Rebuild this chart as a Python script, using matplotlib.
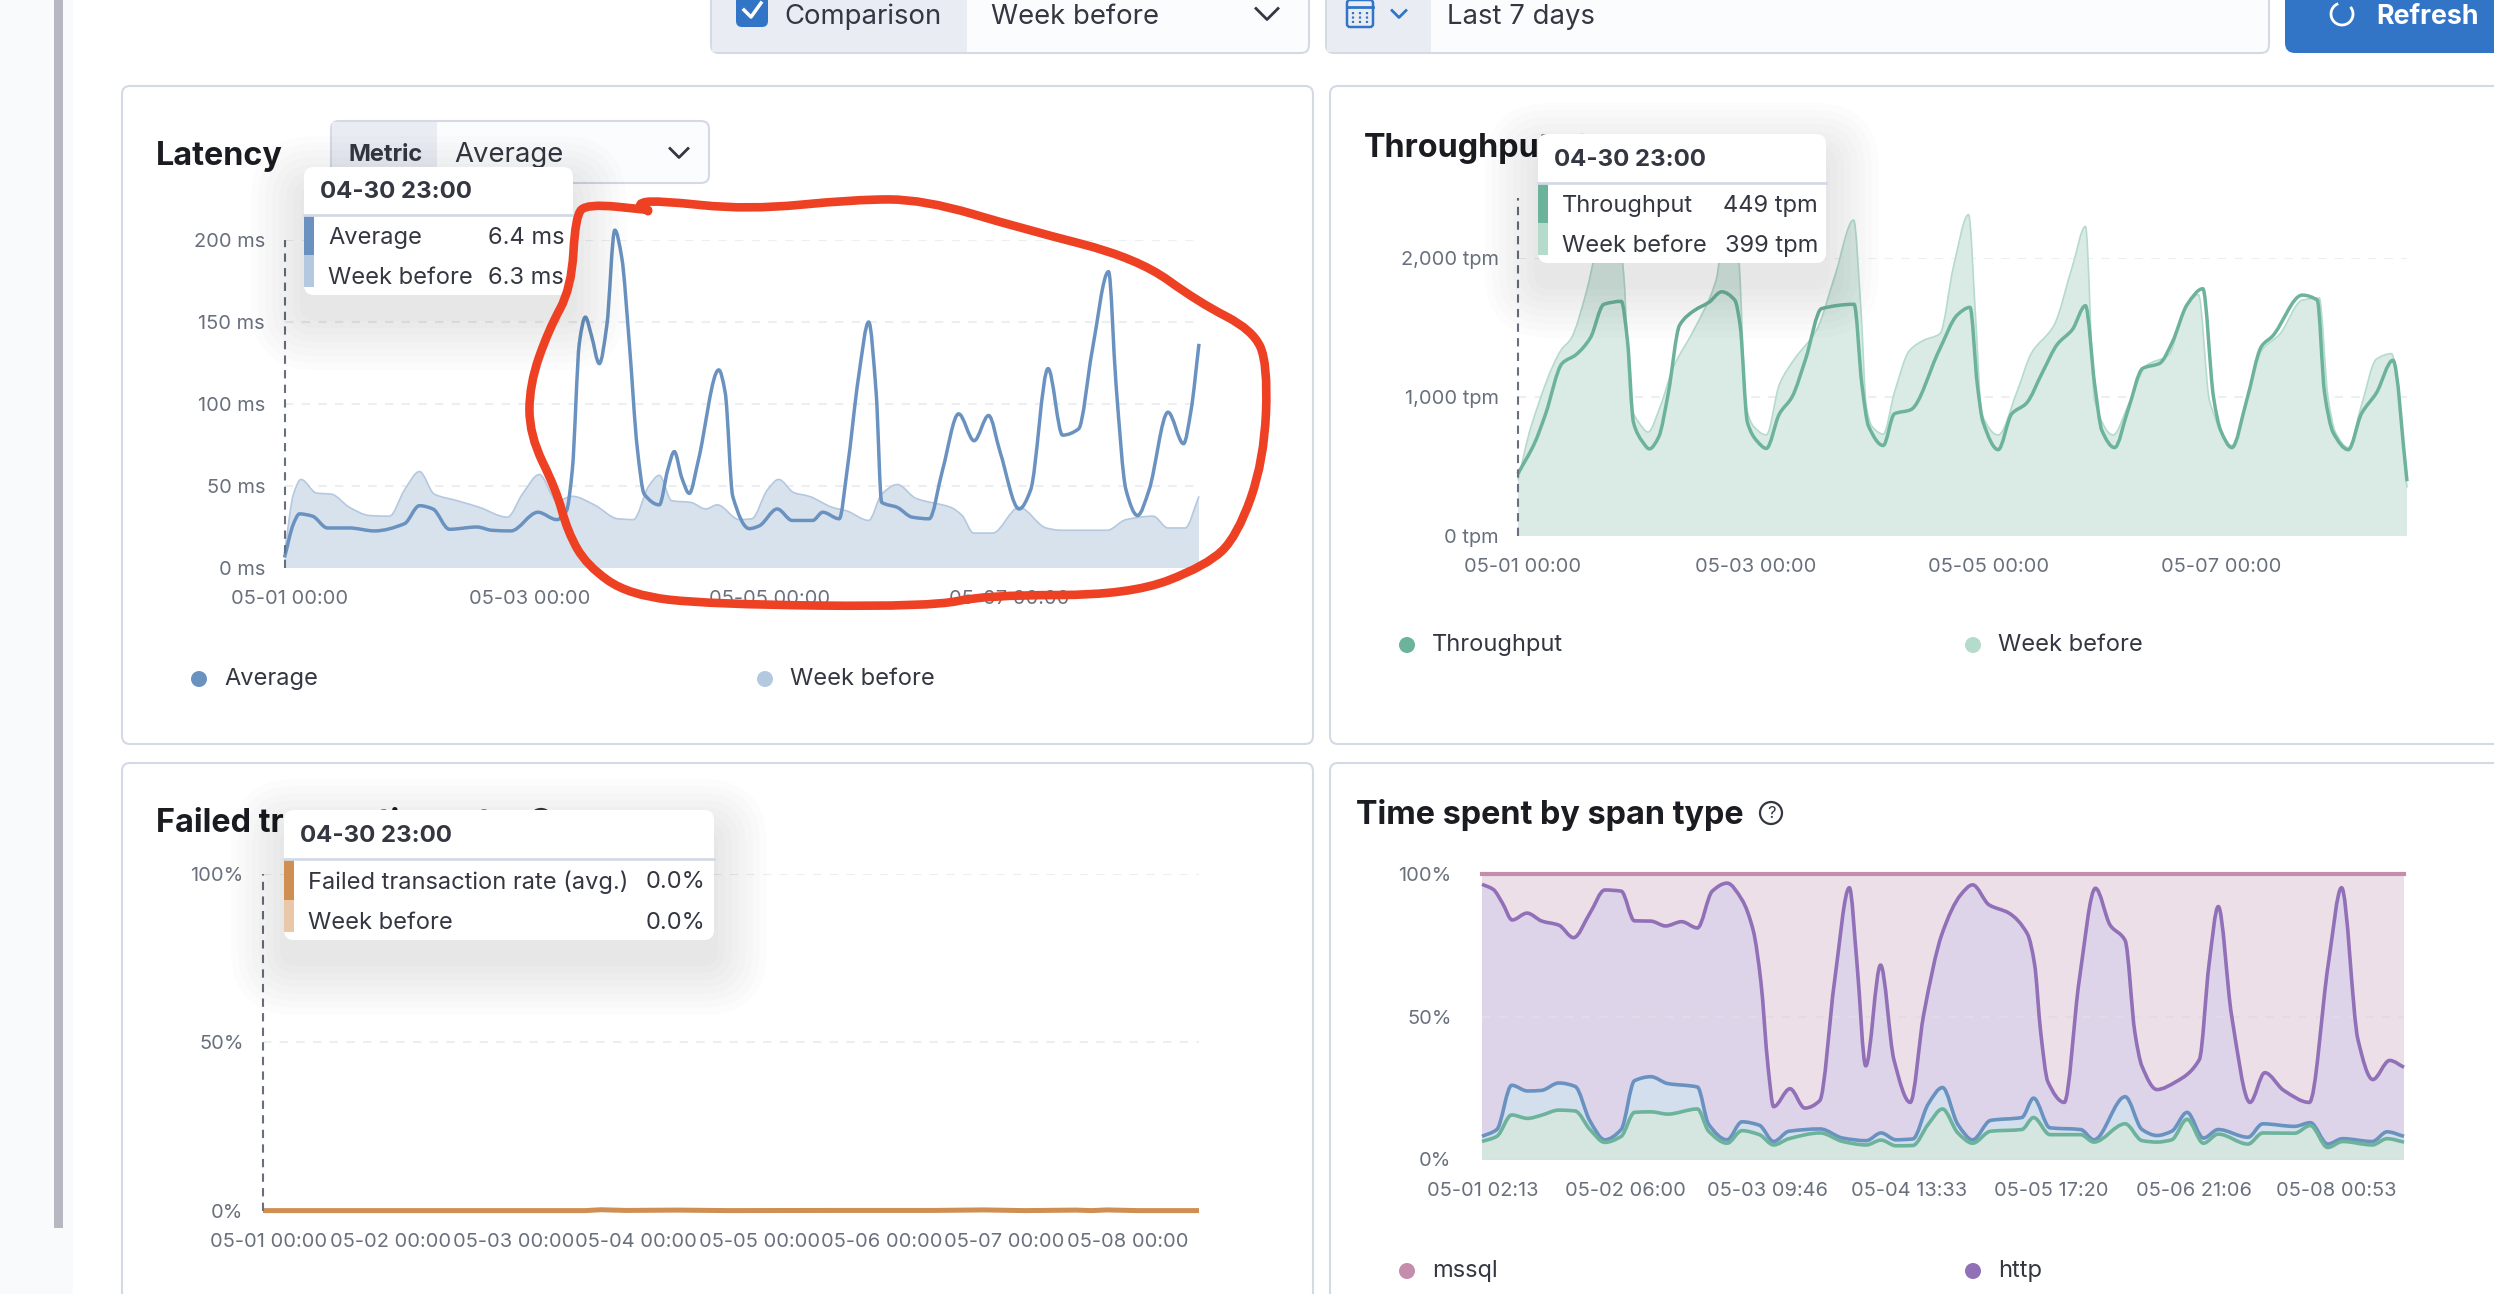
import matplotlib
matplotlib.use("Agg")
import matplotlib.pyplot as plt
from matplotlib.patches import Circle, FancyBboxPatch, PathPatch, Rectangle, Arc
from matplotlib.path import Path

plt.rcParams['font.family'] = ['Inter', 'DejaVu Sans']

W, H = 2494, 1294

# Latency, hours since 05-01 00:00
latency_hours = [-1, 0.8, 2, 4.6, 7.6, 12, 17, 23, 26, 28.7, 32, 37.5, 40.5, 44.3, 49.7, 53.5, 55.4, 56.6, 58, 59.2,
                 60.4, 62, 63.5, 65.1, 66.5, 68, 69.6, 71, 74, 75.7, 77, 78.5, 80, 81.8, 85.9, 87.2, 88.7, 92, 94,
                 97.6, 100.6, 104.7, 106.7, 110, 111.6, 113.9, 115.9, 117.4, 118.5, 121.6, 124.6, 128, 130.7, 133.9,
                 137, 139.9, 142.2, 146, 148.3, 151.8, 154.7, 157.9, 160.6, 163.9, 165.4, 167.4, 169.7, 172, 175.8,
                 178.9, 180.4, 182]
latency_avg = [6.4, 27, 33, 31.6, 24.4, 24.4, 22.6, 27, 38, 36, 23.6, 25, 23, 22.6, 34, 29.5, 34.7, 60, 137, 153,
               142, 124.6, 148, 206, 189, 137, 73, 45, 38.5, 60, 71, 55, 45.5, 65.5, 120.8, 106.7, 43.7, 24, 25.7,
               36, 29, 29, 34, 30, 60, 117, 150, 106.7, 40, 37, 31, 30, 60, 94,
               77.6, 93, 70.7, 36, 47.5, 121.6, 81, 84.8, 132, 180.7, 111.8, 47.5, 32, 47.5, 95,
               75.8, 96, 136.7]
week_hours = [-1, 0.8, 2.3, 5.4, 8.4, 12, 16, 20, 23, 26, 29, 33.6, 38, 43.6, 46.6, 50, 53.5, 56.6, 61, 65.7, 68.8,
              71.9, 74, 76.5, 80.3, 83.3, 85.6, 90, 92.5, 95.6, 97.9, 100.9, 104, 108.6, 111.6, 115.9, 118.5, 121.6,
              125.4, 132.3, 134.6, 136.9, 140.7, 146, 151.4, 154.4, 163.6, 167.4, 172.8, 175.8, 179.2, 182]
latency_week = [9, 45, 54, 45.7, 45, 37, 32, 31.6, 47.5, 58.8, 45, 41, 37, 31, 45, 57, 41, 43.7, 38.5, 30, 29.5,
                50, 56.5, 41, 40, 36, 38.5, 29.5, 30, 47.5, 54, 46, 43.7, 37, 34.7, 29, 45, 50.9,
                42.4, 37, 32, 21.3, 21.3, 37, 24.4, 23, 23, 29.5, 31.6, 24.4, 24.4, 43.7]

# Throughput
tp_hours = [-1, 2.4, 4.7, 8.1, 10.9, 13.9, 16.7, 20.3, 21.6, 22.8, 24.6, 26.1, 28, 30, 32.3, 35.3, 38.4, 41, 43.7,
            44.8, 46.3, 48.3, 50.2, 52.9, 55.5, 58.3, 61.6, 68.3, 69.9, 71.3, 74.3, 76.6, 80, 85.8, 89.6, 92.2, 93.7,
            94.9, 98, 100.8, 103.8, 107.2, 110.2, 113.3, 116, 117.9, 119.4, 122, 124.8, 127.8, 131.3, 133.9, 137,
            140.2, 142.4, 143.9, 146.2, 149.2, 152.3, 154.6, 160.7, 163.8, 165.3, 167.1, 170.2, 172.9, 176, 179.4,
            182.3]
tp_now = [449, 667, 879, 1242, 1303, 1424, 1667, 1688, 1394, 818, 682, 627, 712, 1030, 1515, 1621, 1682, 1757, 1697,
          1515, 818, 682, 630, 879, 1000, 1273, 1636, 1667, 1091, 788, 651, 879, 909, 1333, 1591, 1645, 1091,
          818, 621, 879, 954, 1182, 1379, 1485, 1657, 1091, 758, 636, 909, 1206, 1242, 1394, 1667,
          1779, 1000, 758, 636, 970, 1364, 1439, 1733, 1697, 1030, 742, 621, 879, 1030, 1264,
          394]
tp_week_hours = [-1, 1.7, 7.8, 10, 13.1, 15.4, 17.7, 19.2, 20.8, 22.3, 23.9, 25.8, 28.4, 31, 35.3, 39.9, 41.4, 43,
                 44.5, 46, 47.6, 50.2, 52.9, 56, 60.6, 64.4, 68.2, 69.7, 70.8, 72, 74.3, 76.6, 79.7, 82.7, 86, 88.8,
                 91.9, 93.4, 94.6, 98, 101.8, 104.9, 109.5, 113.3, 116, 117.9, 121.7, 124.8, 128.6, 133.2, 136.2,
                 139.3, 141.6, 146.2, 149.2, 152.3, 156.1, 160.7, 164.2, 166, 167.6, 170.2, 172.9, 176, 179.1, 182.3]
tp_week = [399, 788, 1333, 1424, 1757, 2100, 2330, 2330, 1879, 939, 818, 748, 939, 1212, 1485, 1848, 2200, 2280,
           2000, 939, 788, 727, 1091, 1273, 1485, 1879, 2273, 1636, 939, 788, 733, 1030, 1333, 1409, 1455, 1939,
           2312, 1545, 879, 727, 1030, 1318, 1515, 1939, 2227, 970, 727, 939, 1227, 1303, 1606,
           1736, 970, 651, 970, 1333, 1454, 1697, 1712, 1000, 742, 636, 939, 1273, 1312, 348]

# Failed transaction rate
failed_hours = [-1, 40, 62, 65, 70, 80, 90, 110, 130, 140, 148, 158, 161, 164, 170, 182]
failed_rate = [0, 0, 0, 0.25, 0.05, 0.15, 0, 0.05, 0.05, 0.2, 0, 0.15, 0, 0.2, 0, 0]

# Time spent by span type, stacked tops in percent
http_hours = [2, 4.2, 6, 7.9, 10.8, 13.7, 17, 19.9, 23.1, 26, 29.2, 31.8, 35, 37.9, 41, 44.1, 47, 49.9, 52.8, 55,
              56.5, 57.9, 59, 62.2, 65.1, 68, 70.9, 73.8, 75.3, 77, 79.9, 82.5, 85.7, 88.3, 91.9, 95.6, 97.9, 101.1,
              105, 108.6, 110, 111.2, 112.6, 115.8, 118.7, 121.9, 124.8, 127.7, 129.6, 131, 133.9, 137.6, 142.2,
              144.1, 145.9, 148.5, 152.1, 155, 158.7, 163.7, 167.4, 170, 173.2, 176.1, 179.4, 182.2]
http_top = [96.4, 94.6, 89.8, 83.9, 86.3, 83.5, 82.1, 77.7, 86.3, 94.4, 94, 83.6, 83.5, 81.8, 83.3, 81.1, 94, 96.8,
            91, 80.3, 62.4, 32.6, 18.5, 24.8, 18, 20.6, 62.4, 95.2, 68.4, 32.8, 68.1, 35, 20, 50.5, 79, 92.8, 96.2,
            89.2, 86.3, 79, 68.4, 44.5, 27.2, 20, 62.4, 95, 82, 76.7, 44.5, 32.6, 24.5, 27.2, 35,
            68.4, 88.6, 50.5, 20, 30.4, 24.2, 20, 68.4, 95.2, 42, 28, 34.7, 32.3]
low_hours = [2, 4.9, 7.8, 10.9, 13.6, 17, 20.2, 23.1, 26, 29.2, 31.8, 35, 38.3, 44.1, 46.3, 49.9, 52.8, 56.2, 59, 62,
             68.1, 72.5, 77.1, 80, 82.9, 86.2, 89.2, 92, 95, 97.9, 101.4, 107.5, 109.8, 113, 119, 121.6, 127.7, 131,
             133.9, 136.8, 139.8, 143, 145.9, 151.7, 154.6, 160.8, 163.9, 167.3, 170.2, 176, 178.9, 182.2]
blue_top = [8.1, 10.5, 26, 24, 24.2, 26.8, 25.6, 13.5, 6.9, 10.5, 27.6, 29, 26.6, 25.4, 12.3, 6.9, 13.2, 12, 6.3, 9.9,
            10.7, 7.5, 6.6, 9.3, 6.9, 7.2, 19.4, 25.2, 12.3, 6.9, 13.7, 14.7, 21.5, 11.1, 10.5, 6.9, 22, 10.5,
            8.4, 9.9, 16.5, 7.5, 10.5, 7.8, 12.5, 11.6, 12.9, 5.4, 7.3, 6.3, 9.7, 8.1]
green_top = [6.3, 8.1, 15.6, 14.4, 15.5, 17.3, 17, 10.5, 6, 8.1, 16.5, 16.7, 15.9, 17.7, 9.9, 5.7, 10.1, 8.7, 5.1, 7.3,
             9.3, 6.3, 5.1, 6.8, 4.8, 4.9, 12.3, 17.7, 9.3, 5.7, 9.9, 10.5, 14.7, 8.7, 8.7, 6.1, 12.5, 6.6,
             6.1, 6.9, 14.1, 5.7, 8.9, 5.4, 9.3, 9.2, 11.9, 4.2, 6.3, 5.1, 7.3, 6.1]

tick_days = [0, 48, 96, 144]
tick_days_labels = ['05-01 00:00', '05-03 00:00', '05-05 00:00', '05-07 00:00']
failed_ticks = [0, 24, 48, 72, 96, 120, 144, 168]
failed_tick_labels = ['05-01 00:00', '05-02 00:00', '05-03 00:00', '05-04 00:00',
                      '05-05 00:00', '05-06 00:00', '05-07 00:00', '05-08 00:00']
span_ticks = [2.22, 30, 57.77, 85.55, 113.33, 141.1, 168.88]
span_tick_labels = ['05-01 02:13', '05-02 06:00', '05-03 09:46', '05-04 13:33',
                    '05-05 17:20', '05-06 21:06', '05-08 00:53']

BLUE, BLUE_L = '#6a92c0', '#b4c8e0'
GREEN, GREEN_L = '#6db39b', '#b5dbcd'
ORANGE, ORANGE_L = '#cf8e52', '#e8c8a8'
PINK, PURPLE = '#c48dab', '#9170b8'
INK, GREY = '#343741', '#69707d'
BORDER = '#d3dae6'
TICK = 14.4
TXT = 17
TOP_TXT = 19.8

fig = plt.figure(figsize=(W / 100, H / 100), dpi=100, facecolor='white')

bg = fig.add_axes([0, 0, 1, 1], zorder=0)
bg.set_xlim(0, W)
bg.set_ylim(H, 0)
bg.axis('off')

top = fig.add_axes([0, 0, 1, 1], zorder=5)
top.set_xlim(0, W)
top.set_ylim(H, 0)
top.axis('off')
top.patch.set_alpha(0)


def box(ax, x0, y0, x1, y1, fc, ec='none', r=8, lw=1.5, z=1, alpha=None):
    ax.add_patch(FancyBboxPatch((x0, y0), x1 - x0, y1 - y0, boxstyle=f'round,pad=0,rounding_size={r}',
                                fc=fc, ec=ec, lw=lw, zorder=z, alpha=alpha))


def chevron(ax, x, y, s, color=INK, lw=2):
    ax.plot([x - s, x, x + s], [y - s * 0.5, y + s * 0.5, y - s * 0.5], color=color, lw=lw, zorder=3)


def help_icon(ax, x, y):
    ax.add_patch(Circle((x, y), 11, fc='white', ec=INK, lw=1.6, zorder=2))
    ax.text(x, y, '?', fontsize=12, color=INK, ha='center', va='center', zorder=3)


def smooth_path(xs, ys, base=None):
    # bezier through the read points, flat tangents at local peaks so they do not overshoot
    n = len(xs)
    slopes = [(ys[i + 1] - ys[i]) / (xs[i + 1] - xs[i]) for i in range(n - 1)]
    tang = [slopes[0]]
    for a, b in zip(slopes[:-1], slopes[1:]):
        tang.append(0 if a * b <= 0 else 2 * a * b / (a + b))
    tang.append(slopes[-1])
    verts = [(xs[0], ys[0])]
    codes = [Path.MOVETO]
    for i in range(n - 1):
        d = (xs[i + 1] - xs[i]) / 3
        verts += [(xs[i] + d, ys[i] + tang[i] * d), (xs[i + 1] - d, ys[i + 1] - tang[i + 1] * d), (xs[i + 1], ys[i + 1])]
        codes += [Path.CURVE4] * 3
    if base is not None:
        verts += [(xs[-1], base), (xs[0], base), (xs[0], ys[0])]
        codes += [Path.LINETO, Path.LINETO, Path.CLOSEPOLY]
    return Path(verts, codes)


def curve(ax, xs, ys, color, lw, z):
    ax.add_patch(PathPatch(smooth_path(xs, ys), fc='none', ec=color, lw=lw, clip_on=False, zorder=z,
                           joinstyle='round', capstyle='butt'))


def area(ax, xs, ys, color, z):
    ax.add_patch(PathPatch(smooth_path(xs, ys, 0), fc=color, ec='none', lw=0, clip_on=False, zorder=z))


def make_axes(x0, x1, y0, y1, xlim, ylim, yticks, ylabels, xticks, xlabels, ypad):
    ax = fig.add_axes([x0 / W, 1 - y1 / H, (x1 - x0) / W, (y1 - y0) / H], zorder=2)
    ax.patch.set_alpha(0)
    ax.set_xlim(*xlim)
    ax.set_ylim(*ylim)
    for s in ax.spines.values():
        s.set_visible(False)
    ax.set_yticks(yticks, ylabels)
    ax.set_xticks(xticks, xlabels)
    ax.tick_params(axis='y', length=0, pad=ypad, labelsize=TICK, labelcolor=GREY)
    ax.tick_params(axis='x', length=0, pad=16, labelsize=TICK, labelcolor=GREY)
    for v in yticks[1:]:
        ax.axhline(v, color='#eceef2', lw=1.5, ls=(0, (4, 4)), zorder=0)
    ax.axhline(0, color='#e3e7ee', lw=1.5, zorder=0)
    return ax


def legend(y, items):
    for x, color, label in items:
        bg.add_patch(Circle((x, y), 8, fc=color, ec='none', zorder=3))
        bg.text(x + 25, y, label, fontsize=TXT, color=INK, va='center', zorder=3)


def tooltip(x0, y0, x1, y1, div, title, tx, lx, vx, rows, c1, c2):
    for i in range(8):
        g = 4 + i * 7
        box(top, x0 - g, y0 - g + 22, x1 + g, y1 + g + 22, 'black', r=12 + g, z=6, alpha=0.011)
    box(top, x0, y0, x1, y1, 'white', r=10, z=7)
    mid = (div + y1) / 2
    top.add_patch(Rectangle((x0, div), 10, mid - div, fc=c1, ec='none', zorder=8))
    top.add_patch(Rectangle((x0, mid), 10, y1 - mid - 8, fc=c2, ec='none', zorder=8))
    top.plot([x0, x1], [div, div], color=BORDER, lw=2, zorder=8)
    top.text(tx, (y0 + div) / 2 + 1, title, fontsize=TXT + 0.3, fontweight='bold', color=INK, va='center', zorder=9)
    for (label, value), y in zip(rows, [(div + mid) / 2 + 3, (mid + y1) / 2 + 3]):
        top.text(lx, y, label, fontsize=TXT, color=INK, va='center', zorder=9)
        top.text(vx, y, value, fontsize=TXT, color=INK, va='center', ha='right', zorder=9)


# page chrome
bg.add_patch(Rectangle((0, 0), 73, H, fc='#f9fafc', ec='none', zorder=1))
bg.add_patch(Rectangle((54, 0), 9, 1228, fc='#b5b8c0', ec='none', zorder=2))

box(bg, 122, 86, 1313, 744, 'white', BORDER)
box(bg, 1330, 86, 2540, 744, 'white', BORDER)
box(bg, 122, 763, 1313, 1340, 'white', BORDER)
box(bg, 1330, 763, 2540, 1340, 'white', BORDER)

# top controls
box(bg, 711, -30, 1309, 53, '#fbfcfd', BORDER)
bg.add_patch(Rectangle((712, -5), 255, 57, fc='#e9edf3', ec='none', zorder=2))
box(bg, 736, -8, 768, 27, '#3275c7', r=6, z=3)
bg.plot([744, 751, 761], [10, 17, 3], color='white', lw=2.5, zorder=4)
bg.text(784, 17, 'Comparison', fontsize=TOP_TXT, color=INK, va='center', zorder=3)
bg.text(991, 17, 'Week before', fontsize=TOP_TXT, color=INK, va='center', zorder=3)
chevron(bg, 1267, 14, 11)
box(bg, 1326, -30, 2269, 53, '#fbfcfd', BORDER)
bg.add_patch(Rectangle((1327, -5), 104, 57, fc='#e9edf3', ec='none', zorder=2))
box(bg, 1347, 0, 1373, 27, 'none', '#3275c7', r=3, lw=1.8, z=3)
bg.plot([1347, 1373], [7, 7], color='#3275c7', lw=2, zorder=3)
for gx in [1353, 1360, 1367]:
    bg.plot([gx, gx], [12, 23], color='#3275c7', lw=1.6, ls=(0, (1, 1)), zorder=3)
chevron(bg, 1399, 14, 7, '#3275c7')
bg.text(1447, 17, 'Last 7 days', fontsize=TOP_TXT, color=INK, va='center', zorder=3)
box(bg, 2285, -30, 2540, 53, '#3275c7', r=10)
bg.add_patch(Arc((2342, 14), 22, 22, theta1=-40, theta2=250, ec='white', lw=2, zorder=3))
bg.text(2376, 17, 'Refresh', fontsize=TOP_TXT - 0.5, fontweight='bold', color='white', va='center', zorder=3)

# titles
TITLE = 23.3
bg.text(156, 156, 'Latency', fontsize=TITLE, fontweight='bold', color='#1a1c21', va='center', zorder=3)
box(bg, 331, 121, 709, 183, '#fbfcfd', BORDER)
bg.add_patch(Rectangle((332, 122), 105, 60, fc='#e9edf3', ec='none', zorder=2))
bg.text(348, 155, 'Metric', fontsize=TXT, fontweight='bold', color=INK, va='center', zorder=3)
bg.text(454, 155, 'Average', fontsize=TOP_TXT, color=INK, va='center', zorder=3)
chevron(bg, 679, 153, 9)
bg.text(1364, 149, 'Throughput', fontsize=TITLE, fontweight='bold', color='#1a1c21', va='center', zorder=3)
help_icon(bg, 1582, 146)
bg.text(156, 824, 'Failed transaction rate', fontsize=TITLE, fontweight='bold', color='#1a1c21', va='center', zorder=3)
help_icon(bg, 541, 820)
bg.text(1356, 815, 'Time spent by span type', fontsize=TITLE, fontweight='bold', color='#1a1c21', va='center', zorder=3)
help_icon(bg, 1771, 813)

# latency
ax1 = make_axes(284.5, 1199, 240, 568, (-1, 182), (0, 200), [0, 50, 100, 150, 200],
                ['0 ms', '50 ms', '100 ms', '150 ms', '200 ms'], tick_days, tick_days_labels, 14)
area(ax1, week_hours, latency_week, '#d8e2ed', 1)
curve(ax1, week_hours, latency_week, BLUE_L, 1.2, 2)
curve(ax1, latency_hours, latency_avg, BLUE, 2.5, 3)
ax1.vlines(-1, 0, 200, color=GREY, lw=1.5, ls=(0, (4, 3)), clip_on=False, zorder=4)
legend(679, [(199, BLUE, 'Average'), (765, BLUE_L, 'Week before')])

# throughput
ax2 = make_axes(1518, 2407, 258, 536, (-1, 182.3), (0, 2000), [0, 1000, 2000],
                ['0 tpm', '1,000 tpm', '2,000 tpm'], tick_days, tick_days_labels, 14)
area(ax2, tp_week_hours, tp_week, '#d9ebe4', 1)
curve(ax2, tp_week_hours, tp_week, GREEN_L, 1.2, 2)
curve(ax2, tp_hours, tp_now, GREEN, 2.5, 3)
ax2.vlines(-1, 0, 2430, color=GREY, lw=1.5, ls=(0, (4, 3)), clip_on=False, zorder=4)
legend(645, [(1407, GREEN, 'Throughput'), (1973, GREEN_L, 'Week before')])

# failed transaction rate
ax3 = make_axes(263, 1199, 874, 1210.6, (-1, 182), (0, 100), [0, 50, 100],
                ['0%', '50%', '100%'], failed_ticks, failed_tick_labels, 14)
ax3.plot(failed_hours, failed_rate, color=ORANGE, lw=3.6, clip_on=False, zorder=3, solid_capstyle='butt')
ax3.vlines(-1, 0, 100, color=GREY, lw=1.5, ls=(0, (4, 3)), clip_on=False, zorder=4)

# time spent by span type
ax4 = make_axes(1482, 2404, 874, 1159.5, (2, 182.2), (0, 100), [0, 50, 100],
                ['0%', '50%', '100%'], span_ticks, span_tick_labels, 22)
ax4.axhspan(0, 100, color='#ecdfe8', lw=0, zorder=0)
ax4.axhline(50, color='#e2dbe6', lw=1.5, ls=(0, (4, 4)), zorder=1.5)
area(ax4, http_hours, http_top, '#ddd4e9', 1)
area(ax4, low_hours, blue_top, '#d3dfec', 2)
area(ax4, low_hours, green_top, '#d4e6df', 2.5)
ax4.axhline(100, color=PINK, lw=3, clip_on=False, zorder=3)
curve(ax4, http_hours, http_top, PURPLE, 2.6, 3)
curve(ax4, low_hours, blue_top, BLUE, 2.6, 3)
curve(ax4, low_hours, green_top, GREEN, 2.6, 3.5)
legend(1271, [(1407, PINK, 'mssql'), (1973, PURPLE, 'http')])

# tooltips
tooltip(304, 167, 573, 295, 215, '04-30 23:00', 320, 328, 564,
        [('Average', '6.4 ms'), ('Week before', '6.3 ms')], BLUE, BLUE_L)
tooltip(1538, 134, 1826, 263, 183, '04-30 23:00', 1554, 1562, 1818,
        [('Throughput', '449 tpm'), ('Week before', '399 tpm')], GREEN, GREEN_L)
tooltip(284, 810, 714, 940, 859, '04-30 23:00', 300, 308, 705,
        [('Failed transaction rate (avg.)', '0.0%'), ('Week before', '0.0%')], ORANGE, ORANGE_L)

# red scribble over the latency chart
scribble = [(690, 285), (610, 270), (595, 300), (590, 470), (560, 570), (535, 700), (535, 820), (570, 950),
            (585, 1050), (610, 1130), (665, 1200), (770, 1222), (1060, 1228), (1130, 1200), (1320, 1200),
            (1420, 1130), (1460, 1060), (1495, 880), (1500, 650), (1480, 570), (1410, 505), (1330, 400),
            (1180, 330), (1050, 260), (960, 260), (820, 285), (700, 262), (675, 270), (690, 288)]
pts = [(120 + x / 1.3067, 90 + y / 2.376) for x, y in scribble]
verts = [pts[0]]
codes = [Path.MOVETO]
for a, b in zip(pts[:-1], pts[1:]):
    verts += [a, ((a[0] + b[0]) / 2, (a[1] + b[1]) / 2)]
    codes += [Path.CURVE3, Path.CURVE3]
verts.append(pts[-1])
codes.append(Path.LINETO)
top.add_patch(PathPatch(Path(verts, codes), fc='none', ec='#ee4124', lw=6.2, capstyle='round', joinstyle='round', zorder=10))

fig.savefig('out.png', dpi=100)
